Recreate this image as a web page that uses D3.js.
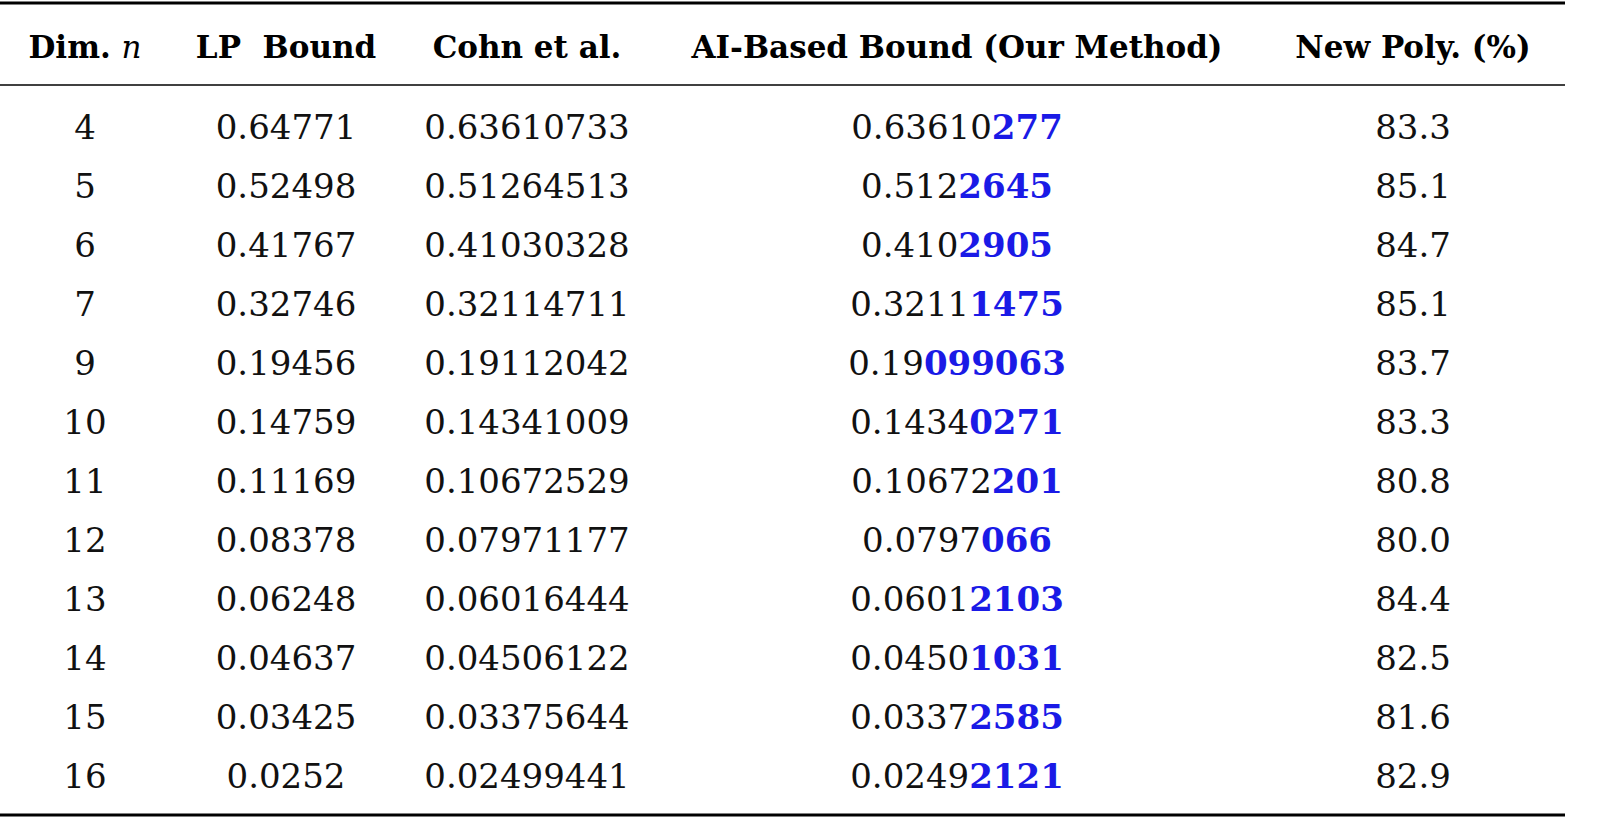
<!DOCTYPE html>
<html><head><meta charset="utf-8">
<script src="https://cdn.jsdelivr.net/npm/d3@7"></script>
<style>body{margin:0;background:#fff}</style>
</head><body><svg id="c" width="1599" height="835"></svg>
<script>
const headers = ["Dim. ", "LP  Bound", "Cohn et al.", "AI-Based Bound (Our Method)", "New Poly. (%)"];
const dims = ["4","5","6","7","9","10","11","12","13","14","15","16"];
const lpBound = ["0.64771","0.52498","0.41767","0.32746","0.19456","0.14759","0.11169","0.08378","0.06248","0.04637","0.03425","0.0252"];
const cohn = ["0.63610733","0.51264513","0.41030328","0.32114711","0.19112042","0.14341009","0.10672529","0.07971177","0.06016444","0.04506122","0.03375644","0.02499441"];
const aiPrefix = ["0.63610","0.512","0.410","0.3211","0.19","0.1434","0.10672","0.0797","0.0601","0.0450","0.0337","0.0249"];
const aiSuffix = ["277","2645","2905","1475","099063","0271","201","066","2103","1031","2585","2121"];
const newPoly = ["83.3","85.1","84.7","85.1","83.7","83.3","80.8","80.0","84.4","82.5","81.6","82.9"];

const svg = d3.select("#c");
const font = "'DejaVu Serif', serif";
const colX = d3.scaleOrdinal().domain([0,1,2,3,4]).range([85,286,527,957,1413]);
const rowY = d3.scaleLinear().domain([0,11]).range([139,788]);

[[3,3],[85,1.5],[815,3]].forEach(([y,w])=>svg.append("line").attr("x1",0).attr("x2",1565).attr("y1",y).attr("y2",y).attr("stroke","#000").attr("stroke-width",w));

headers.forEach((h,i)=>{
  const t = svg.append("text").attr("x",colX(i)).attr("y",58).attr("text-anchor","middle")
    .attr("font-family",font).attr("font-size",31).attr("font-weight","bold").attr("xml:space","preserve").text(h);
  if(i===0) t.append("tspan").attr("font-style","italic").attr("font-weight","normal").text("n");
});

const cell = (i,r,txt)=>svg.append("text").attr("x",colX(i)).attr("y",rowY(r)).attr("text-anchor","middle")
  .attr("font-family",font).attr("font-size",34).attr("fill","#111").text(txt);

dims.forEach((d,r)=>{
  cell(0,r,d); cell(1,r,lpBound[r]); cell(2,r,cohn[r]); cell(4,r,newPoly[r]);
  const t = svg.append("text").attr("x",colX(3)).attr("y",rowY(r)).attr("text-anchor","middle")
    .attr("font-family",font).attr("font-size",34).attr("fill","#111");
  t.append("tspan").text(aiPrefix[r]);
  t.append("tspan").attr("fill","#1a1ae6").attr("font-weight","bold").text(aiSuffix[r]);
});
</script></body></html>
